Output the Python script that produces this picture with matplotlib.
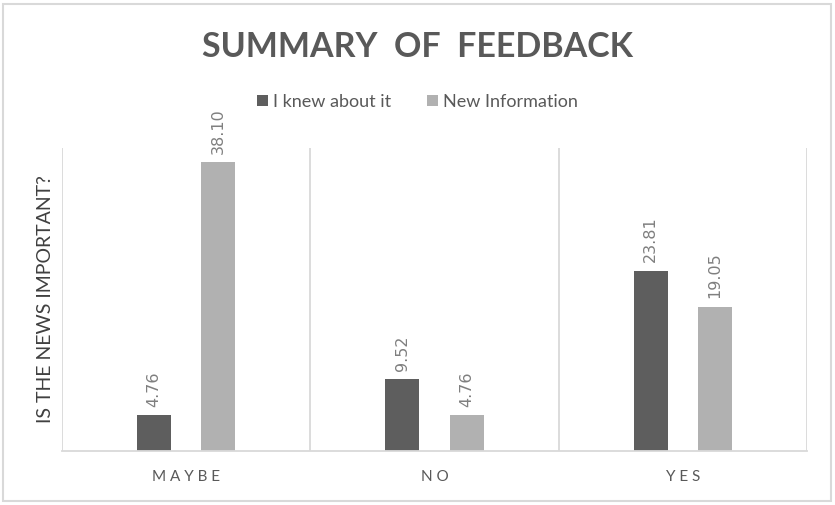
import numpy as np
import matplotlib.pyplot as plt
from matplotlib.patches import Rectangle

categories = ["MAYBE", "NO", "YES"]
knew = [4.76, 9.52, 23.81]
new_info = [38.10, 4.76, 19.05]
series_names = ["I knew about it", "New Information"]

DARK = "#5e5e5e"
LIGHT = "#b1b1b1"
GRID = "#d9d9d9"
TEXT = "#595959"

fig = plt.figure(figsize=(8.35, 5.05), dpi=100)
fig.patches.append(Rectangle((0.004, 0.008), 0.991, 0.984, transform=fig.transFigure,
                             fill=False, edgecolor=GRID, linewidth=1.5))

ax = fig.add_axes([62 / 835, 54 / 505, 745 / 835, 303 / 505])
x = np.arange(len(categories))
w = 0.137
off = 0.129
b1 = ax.bar(x - off, knew, w, color=DARK, label=series_names[0])
b2 = ax.bar(x + off, new_info, w, color=LIGHT, label=series_names[1])

for bars in (b1, b2):
    for r in bars:
        ax.annotate(f"{r.get_height():.2f}", (r.get_x() + r.get_width() / 2, r.get_height()),
                    xytext=(0, 6), textcoords="offset points", rotation=90,
                    ha="center", va="bottom", fontsize=11.5, color="#7f7f7f",
                    family="DejaVu Sans")

ax.set_xlim(-0.5, 2.5)
ax.set_ylim(0, 40)
ax.set_yticks([])
ax.set_xticks(x)
ax.set_xticklabels([" ".join(c) for c in categories], fontsize=11, color=TEXT, family="Lato")
ax.tick_params(axis="x", length=0, pad=14)
for xv in [-0.5, 0.5, 1.5, 2.5]:
    ax.axvline(xv, color=GRID, linewidth=1.3, zorder=0)
for s in ["top", "right", "left"]:
    ax.spines[s].set_visible(False)
ax.spines["bottom"].set_color(GRID)
ax.spines["bottom"].set_linewidth(1.3)

ax.set_ylabel("IS THE NEWS IMPORTANT?", fontsize=14, color="#404040", family="Lato", labelpad=6)

fig.text(0.5, 1 - 47 / 505, "SUMMARY  OF  FEEDBACK", ha="center", va="center",
         fontsize=24.5, fontweight="bold", color=TEXT, family="Lato")
fig.legend(loc="center", bbox_to_anchor=(0.5, 1 - 102 / 505), ncol=2, frameon=False,
           handlelength=0.6, handleheight=0.6, handletextpad=0.3, columnspacing=2.0,
           prop={"family": "Lato", "size": 13}, labelcolor=TEXT)

fig.savefig("out.png", dpi=100)
